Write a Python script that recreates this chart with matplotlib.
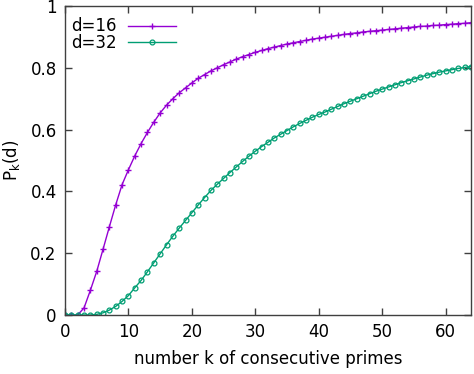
import numpy as np
from matplotlib import pyplot as plt

# k = 0..64
k = np.arange(0, 65)

# P_k(16)
p16 = [0.0, 0.0, 0.0, 0.023, 0.080, 0.141, 0.213, 0.286, 0.357, 0.422,
       0.470, 0.515, 0.555, 0.591, 0.624, 0.654, 0.679, 0.700, 0.719, 0.735,
       0.751, 0.766, 0.778, 0.790, 0.800, 0.810, 0.819, 0.828, 0.836, 0.843,
       0.850, 0.856, 0.862, 0.867, 0.872, 0.877, 0.881, 0.885, 0.889, 0.893,
       0.896, 0.899, 0.902, 0.905, 0.908, 0.911, 0.913, 0.916, 0.918, 0.920,
       0.922, 0.924, 0.926, 0.928, 0.930, 0.932, 0.934, 0.935, 0.937, 0.938,
       0.940, 0.941, 0.943, 0.944, 0.946]

# P_k(32)
p32 = [0.0, 0.0, 0.0, 0.0, 0.0, 0.002, 0.007, 0.016, 0.028, 0.044,
       0.063, 0.088, 0.112, 0.140, 0.169, 0.198, 0.227, 0.255, 0.281, 0.306,
       0.331, 0.356, 0.380, 0.403, 0.423, 0.442, 0.461, 0.479, 0.497, 0.514,
       0.530, 0.545, 0.559, 0.573, 0.585, 0.597, 0.609, 0.620, 0.630, 0.640,
       0.649, 0.657, 0.666, 0.675, 0.684, 0.692, 0.700, 0.708, 0.716, 0.724,
       0.731, 0.738, 0.745, 0.752, 0.758, 0.764, 0.770, 0.776, 0.781, 0.786,
       0.790, 0.794, 0.798, 0.801, 0.804]

xticks = [0, 10, 20, 30, 40, 50, 60]
yticks = [0, 0.2, 0.4, 0.6, 0.8, 1]
yticklabels = ['0', '0.2', '0.4', '0.6', '0.8', '1']

plt.rcParams['font.family'] = 'DejaVu Sans'
plt.rcParams['font.size'] = 12

fig = plt.figure(figsize=(4.74, 3.74), dpi=100)
ax = fig.add_axes([65/474, 59/374, 406/474, 309/374])

ax.plot(k, p16, color='#9400d3', lw=1, marker='+', ms=5, mew=1,
        label='d=16')
ax.plot(k, p32, color='#009e73', lw=1, marker='o', ms=3.5, mew=0.9,
        mfc='none', label='d=32')

ax.set_xlim(0, 64)
ax.set_ylim(0, 1)
ax.set_xticks(xticks)
ax.set_yticks(yticks)
ax.set_yticklabels(yticklabels)
ax.tick_params(direction='in', length=5, width=1, color='#404040',
               top=True, right=True, pad=6)
for s in ax.spines.values():
  s.set_color('#404040')
  s.set_linewidth(1)

ax.set_xlabel('number k of consecutive primes', labelpad=6)
ax.set_ylabel(r'P$_\mathregular{k}$(d)', labelpad=6)

ax.legend(loc='upper left', bbox_to_anchor=(-0.005, 0.99), frameon=False,
          markerfirst=False, handlelength=2.9, handletextpad=0.65,
          borderpad=0.2, borderaxespad=0.3, labelspacing=-0.1, fontsize=12)

fig.savefig('out.png', dpi=100)
